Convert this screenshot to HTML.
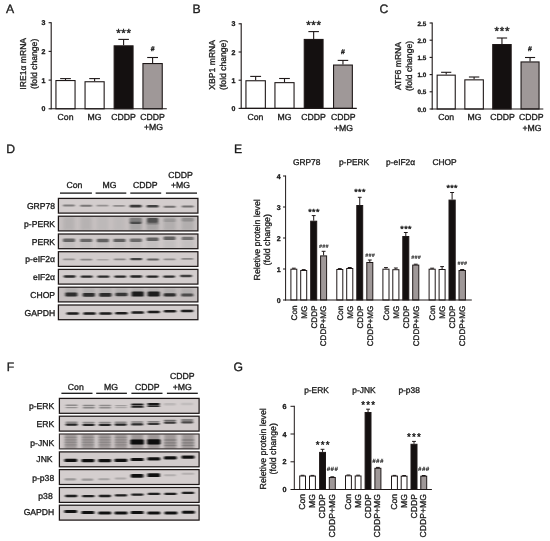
<!DOCTYPE html>
<html><head><meta charset="utf-8"><title>Figure</title>
<style>
html,body{margin:0;padding:0;background:#fff;}
body{width:550px;height:541px;overflow:hidden;}
svg{display:block;font-family:"Liberation Sans",Arial,sans-serif;text-rendering:geometricPrecision;}
text{stroke:#1c1c1c;stroke-width:0.33px;}
</style></head><body>
<svg width="550" height="541" viewBox="0 0 550 541">
<defs>
<filter id="b1" x="-20%" y="-100%" width="140%" height="300%"><feGaussianBlur stdDeviation="0.9 0.55"/></filter>
<filter id="b2" x="-20%" y="-20%" width="140%" height="140%"><feGaussianBlur stdDeviation="1.4 1.0"/></filter>
</defs>
<rect x="0" y="0" width="550" height="541" fill="#ffffff"/>
<text x="6.0" y="13.1" font-size="12.2" text-anchor="start" font-weight="normal" fill="#1c1c1c">A</text>
<line x1="65.5" y1="80.0" x2="65.5" y2="78.6" stroke="#1e1818" stroke-width="1.1"/>
<line x1="60.147" y1="78.6" x2="70.853" y2="78.6" stroke="#1e1818" stroke-width="1.1"/>
<rect x="55.95" y="80.55" width="19.10" height="28.25" fill="#ffffff" stroke="#1e1818" stroke-width="1.1"/>
<line x1="94.6" y1="81.2" x2="94.6" y2="78.6" stroke="#1e1818" stroke-width="1.1"/>
<line x1="89.247" y1="78.6" x2="99.95299999999999" y2="78.6" stroke="#1e1818" stroke-width="1.1"/>
<rect x="85.05" y="81.75" width="19.10" height="27.05" fill="#ffffff" stroke="#1e1818" stroke-width="1.1"/>
<line x1="123.6" y1="45.3" x2="123.6" y2="39.4" stroke="#1e1818" stroke-width="1.1"/>
<line x1="118.3" y1="39.4" x2="128.9" y2="39.4" stroke="#1e1818" stroke-width="1.1"/>
<rect x="114.15" y="45.85" width="18.90" height="62.95" fill="#141010" stroke="#1e1818" stroke-width="1.1"/>
<line x1="152.60000000000002" y1="63.0" x2="152.60000000000002" y2="57.5" stroke="#1e1818" stroke-width="1.1"/>
<line x1="147.19400000000002" y1="57.5" x2="158.00600000000003" y2="57.5" stroke="#1e1818" stroke-width="1.1"/>
<rect x="142.95" y="63.55" width="19.30" height="45.25" fill="#9f9898" stroke="#1e1818" stroke-width="1.1"/>
<line x1="51.2" y1="22.2" x2="51.2" y2="109.3" stroke="#1e1818" stroke-width="1.1"/>
<line x1="50.7" y1="108.8" x2="166.8" y2="108.8" stroke="#1e1818" stroke-width="1.1"/>
<line x1="48.6" y1="22.7" x2="51.2" y2="22.7" stroke="#1e1818" stroke-width="1.1"/>
<text x="45.300000000000004" y="25.2" font-size="7.0" text-anchor="end" font-weight="bold" fill="#1c1c1c">3</text>
<line x1="48.6" y1="51.4" x2="51.2" y2="51.4" stroke="#1e1818" stroke-width="1.1"/>
<text x="45.300000000000004" y="53.9" font-size="7.0" text-anchor="end" font-weight="bold" fill="#1c1c1c">2</text>
<line x1="48.6" y1="80.1" x2="51.2" y2="80.1" stroke="#1e1818" stroke-width="1.1"/>
<text x="45.300000000000004" y="82.6" font-size="7.0" text-anchor="end" font-weight="bold" fill="#1c1c1c">1</text>
<line x1="48.6" y1="108.8" x2="51.2" y2="108.8" stroke="#1e1818" stroke-width="1.1"/>
<text x="45.300000000000004" y="111.3" font-size="7.0" text-anchor="end" font-weight="bold" fill="#1c1c1c">0</text>
<text x="25.6" y="63.8" font-size="8.6" text-anchor="middle" font-weight="normal" fill="#1c1c1c" transform="rotate(-90 25.6 63.8)">IRE1α mRNA</text>
<text x="36.6" y="63.8" font-size="8.6" text-anchor="middle" font-weight="normal" fill="#1c1c1c" transform="rotate(-90 36.6 63.8)">(fold change)</text>
<text x="65.5" y="120.10000000000001" font-size="8.7" text-anchor="middle" font-weight="normal" fill="#1c1c1c">Con</text>
<text x="94.6" y="120.10000000000001" font-size="8.7" text-anchor="middle" font-weight="normal" fill="#1c1c1c">MG</text>
<text x="123.6" y="120.10000000000001" font-size="8.7" text-anchor="middle" font-weight="normal" fill="#1c1c1c">CDDP</text>
<text x="152.6" y="120.10000000000001" font-size="8.7" text-anchor="middle" font-weight="normal" fill="#1c1c1c">CDDP</text>
<text x="153.6" y="129.8" font-size="8.7" text-anchor="middle" font-weight="normal" fill="#1c1c1c">+MG</text>
<text x="123.94999999999999" y="37.1" font-size="11.6" text-anchor="middle" font-weight="normal" fill="#1c1c1c" letter-spacing="0.7" style="stroke-width:0.4px">***</text>
<text x="152.6" y="51.099999999999994" font-size="6.8" text-anchor="middle" font-weight="bold" fill="#1c1c1c">#</text>
<text x="192.6" y="13.1" font-size="12.2" text-anchor="start" font-weight="normal" fill="#1c1c1c">B</text>
<line x1="255.64999999999998" y1="80.2" x2="255.64999999999998" y2="76.4" stroke="#1e1818" stroke-width="1.1"/>
<line x1="250.21749999999997" y1="76.4" x2="261.0825" y2="76.4" stroke="#1e1818" stroke-width="1.1"/>
<rect x="245.95" y="80.75" width="19.40" height="27.65" fill="#ffffff" stroke="#1e1818" stroke-width="1.1"/>
<line x1="284.5" y1="82.1" x2="284.5" y2="78.5" stroke="#1e1818" stroke-width="1.1"/>
<line x1="279.147" y1="78.5" x2="289.853" y2="78.5" stroke="#1e1818" stroke-width="1.1"/>
<rect x="274.95" y="82.65" width="19.10" height="25.75" fill="#ffffff" stroke="#1e1818" stroke-width="1.1"/>
<line x1="313.65" y1="38.9" x2="313.65" y2="31.6" stroke="#1e1818" stroke-width="1.1"/>
<line x1="308.37649999999996" y1="31.6" x2="318.9235" y2="31.6" stroke="#1e1818" stroke-width="1.1"/>
<rect x="304.25" y="39.45" width="18.80" height="68.95" fill="#141010" stroke="#1e1818" stroke-width="1.1"/>
<line x1="342.95" y1="64.5" x2="342.95" y2="60.4" stroke="#1e1818" stroke-width="1.1"/>
<line x1="337.6765" y1="60.4" x2="348.2235" y2="60.4" stroke="#1e1818" stroke-width="1.1"/>
<rect x="333.55" y="65.05" width="18.80" height="43.35" fill="#9f9898" stroke="#1e1818" stroke-width="1.1"/>
<line x1="241.2" y1="23.3" x2="241.2" y2="108.9" stroke="#1e1818" stroke-width="1.1"/>
<line x1="240.7" y1="108.4" x2="356.8" y2="108.4" stroke="#1e1818" stroke-width="1.1"/>
<line x1="238.6" y1="23.8" x2="241.2" y2="23.8" stroke="#1e1818" stroke-width="1.1"/>
<text x="235.29999999999998" y="26.3" font-size="7.0" text-anchor="end" font-weight="bold" fill="#1c1c1c">3</text>
<line x1="238.6" y1="52.0" x2="241.2" y2="52.0" stroke="#1e1818" stroke-width="1.1"/>
<text x="235.29999999999998" y="54.5" font-size="7.0" text-anchor="end" font-weight="bold" fill="#1c1c1c">2</text>
<line x1="238.6" y1="80.2" x2="241.2" y2="80.2" stroke="#1e1818" stroke-width="1.1"/>
<text x="235.29999999999998" y="82.7" font-size="7.0" text-anchor="end" font-weight="bold" fill="#1c1c1c">1</text>
<line x1="238.6" y1="108.4" x2="241.2" y2="108.4" stroke="#1e1818" stroke-width="1.1"/>
<text x="235.29999999999998" y="110.9" font-size="7.0" text-anchor="end" font-weight="bold" fill="#1c1c1c">0</text>
<text x="215.0" y="64.8" font-size="8.6" text-anchor="middle" font-weight="normal" fill="#1c1c1c" transform="rotate(-90 215.0 64.8)">XBP1 mRNA</text>
<text x="225.8" y="64.8" font-size="8.6" text-anchor="middle" font-weight="normal" fill="#1c1c1c" transform="rotate(-90 225.8 64.8)">(fold change)</text>
<text x="255.4" y="119.9" font-size="8.7" text-anchor="middle" font-weight="normal" fill="#1c1c1c">Con</text>
<text x="284.5" y="119.9" font-size="8.7" text-anchor="middle" font-weight="normal" fill="#1c1c1c">MG</text>
<text x="313.6" y="119.9" font-size="8.7" text-anchor="middle" font-weight="normal" fill="#1c1c1c">CDDP</text>
<text x="343.2" y="119.9" font-size="8.7" text-anchor="middle" font-weight="normal" fill="#1c1c1c">CDDP</text>
<text x="343.6" y="130.6" font-size="8.7" text-anchor="middle" font-weight="normal" fill="#1c1c1c">+MG</text>
<text x="313.95000000000005" y="29.1" font-size="11.6" text-anchor="middle" font-weight="normal" fill="#1c1c1c" letter-spacing="0.7" style="stroke-width:0.4px">***</text>
<text x="343.0" y="54.3" font-size="6.8" text-anchor="middle" font-weight="bold" fill="#1c1c1c">#</text>
<text x="379.6" y="13.2" font-size="12.2" text-anchor="start" font-weight="normal" fill="#1c1c1c">C</text>
<line x1="446.20000000000005" y1="74.6" x2="446.20000000000005" y2="72.3" stroke="#1e1818" stroke-width="1.1"/>
<line x1="441.112" y1="72.3" x2="451.28800000000007" y2="72.3" stroke="#1e1818" stroke-width="1.1"/>
<rect x="437.15" y="75.15" width="18.10" height="33.85" fill="#ffffff" stroke="#1e1818" stroke-width="1.1"/>
<line x1="474.1" y1="79.3" x2="474.1" y2="77.0" stroke="#1e1818" stroke-width="1.1"/>
<line x1="468.906" y1="77.0" x2="479.29400000000004" y2="77.0" stroke="#1e1818" stroke-width="1.1"/>
<rect x="464.85" y="79.85" width="18.50" height="29.15" fill="#ffffff" stroke="#1e1818" stroke-width="1.1"/>
<line x1="501.95" y1="44.0" x2="501.95" y2="38.0" stroke="#1e1818" stroke-width="1.1"/>
<line x1="496.78249999999997" y1="38.0" x2="507.1175" y2="38.0" stroke="#1e1818" stroke-width="1.1"/>
<rect x="492.75" y="44.55" width="18.40" height="64.45" fill="#141010" stroke="#1e1818" stroke-width="1.1"/>
<line x1="530.05" y1="61.4" x2="530.05" y2="57.5" stroke="#1e1818" stroke-width="1.1"/>
<line x1="524.9884999999999" y1="57.5" x2="535.1115" y2="57.5" stroke="#1e1818" stroke-width="1.1"/>
<rect x="521.05" y="61.95" width="18.00" height="47.05" fill="#9f9898" stroke="#1e1818" stroke-width="1.1"/>
<line x1="432.2" y1="22.5" x2="432.2" y2="109.5" stroke="#1e1818" stroke-width="1.1"/>
<line x1="431.7" y1="109.0" x2="543.3" y2="109.0" stroke="#1e1818" stroke-width="1.1"/>
<line x1="429.59999999999997" y1="23.0" x2="432.2" y2="23.0" stroke="#1e1818" stroke-width="1.1"/>
<text x="426.3" y="25.5" font-size="6.3" text-anchor="end" font-weight="bold" fill="#1c1c1c">2.5</text>
<line x1="429.59999999999997" y1="40.2" x2="432.2" y2="40.2" stroke="#1e1818" stroke-width="1.1"/>
<text x="426.3" y="42.7" font-size="6.3" text-anchor="end" font-weight="bold" fill="#1c1c1c">2.0</text>
<line x1="429.59999999999997" y1="57.4" x2="432.2" y2="57.4" stroke="#1e1818" stroke-width="1.1"/>
<text x="426.3" y="59.9" font-size="6.3" text-anchor="end" font-weight="bold" fill="#1c1c1c">1.5</text>
<line x1="429.59999999999997" y1="74.6" x2="432.2" y2="74.6" stroke="#1e1818" stroke-width="1.1"/>
<text x="426.3" y="77.1" font-size="6.3" text-anchor="end" font-weight="bold" fill="#1c1c1c">1.0</text>
<line x1="429.59999999999997" y1="91.8" x2="432.2" y2="91.8" stroke="#1e1818" stroke-width="1.1"/>
<text x="426.3" y="94.3" font-size="6.3" text-anchor="end" font-weight="bold" fill="#1c1c1c">0.5</text>
<line x1="429.59999999999997" y1="109.0" x2="432.2" y2="109.0" stroke="#1e1818" stroke-width="1.1"/>
<text x="426.3" y="111.5" font-size="6.3" text-anchor="end" font-weight="bold" fill="#1c1c1c">0.0</text>
<text x="400.8" y="66.0" font-size="8.6" text-anchor="middle" font-weight="normal" fill="#1c1c1c" transform="rotate(-90 400.8 66.0)">ATF6 mRNA</text>
<text x="411.6" y="66.0" font-size="8.6" text-anchor="middle" font-weight="normal" fill="#1c1c1c" transform="rotate(-90 411.6 66.0)">(fold change)</text>
<text x="446.2" y="120.10000000000001" font-size="8.7" text-anchor="middle" font-weight="normal" fill="#1c1c1c">Con</text>
<text x="474.6" y="120.10000000000001" font-size="8.7" text-anchor="middle" font-weight="normal" fill="#1c1c1c">MG</text>
<text x="502.5" y="120.10000000000001" font-size="8.7" text-anchor="middle" font-weight="normal" fill="#1c1c1c">CDDP</text>
<text x="531.2" y="120.10000000000001" font-size="8.7" text-anchor="middle" font-weight="normal" fill="#1c1c1c">CDDP</text>
<text x="532.0" y="130.8" font-size="8.7" text-anchor="middle" font-weight="normal" fill="#1c1c1c">+MG</text>
<text x="502.35" y="35.1" font-size="11.6" text-anchor="middle" font-weight="normal" fill="#1c1c1c" letter-spacing="0.7" style="stroke-width:0.4px">***</text>
<text x="530.0" y="51.199999999999996" font-size="6.8" text-anchor="middle" font-weight="bold" fill="#1c1c1c">#</text>
<text x="6.2" y="153.3" font-size="12.2" text-anchor="start" font-weight="normal" fill="#1c1c1c">D</text>
<clipPath id="dc0"><rect x="58.4" y="198.4" width="139.5" height="14.7"/></clipPath>
<rect x="58.40" y="198.40" width="139.50" height="14.70" fill="#d3cdcd" stroke="none" stroke-width="1"/>
<g clip-path="url(#dc0)">
<rect x="62.90" y="204.50" width="12.0" height="2.0" rx="1.0" fill="#333" opacity="0.5" filter="url(#b1)"/>
<rect x="80.10" y="204.70" width="12.0" height="2.0" rx="1.0" fill="#333" opacity="0.55" filter="url(#b1)"/>
<rect x="96.50" y="204.80" width="12.0" height="1.8" rx="0.9" fill="#333" opacity="0.38" filter="url(#b1)"/>
<rect x="113.00" y="204.90" width="12.0" height="1.8" rx="0.9" fill="#333" opacity="0.42" filter="url(#b1)"/>
<rect x="129.70" y="204.80" width="12.0" height="2.6" rx="1.2" fill="#333" opacity="0.95" filter="url(#b1)"/>
<rect x="146.60" y="205.00" width="12.0" height="2.6" rx="1.2" fill="#333" opacity="0.9" filter="url(#b1)"/>
<rect x="163.70" y="205.70" width="12.0" height="2.0" rx="1.0" fill="#333" opacity="0.6" filter="url(#b1)"/>
<rect x="181.70" y="205.60" width="12.0" height="2.0" rx="1.0" fill="#333" opacity="0.6" filter="url(#b1)"/>
</g>
<rect x="58.40" y="198.40" width="139.50" height="14.70" fill="none" stroke="#1c1616" stroke-width="1.25"/>
<clipPath id="dc1"><rect x="58.4" y="216.2" width="139.5" height="14.7"/></clipPath>
<rect x="58.40" y="216.20" width="139.50" height="14.70" fill="#c6c0c0" stroke="none" stroke-width="1"/>
<g clip-path="url(#dc1)">
<rect x="63.40" y="217.20" width="11" height="13" fill="#999" opacity="0.34" filter="url(#b2)"/>
<rect x="80.60" y="217.20" width="11" height="13" fill="#999" opacity="0.34" filter="url(#b2)"/>
<rect x="97.00" y="217.20" width="11" height="13" fill="#a5a5a5" opacity="0.26" filter="url(#b2)"/>
<rect x="113.50" y="217.20" width="11" height="13" fill="#a5a5a5" opacity="0.24" filter="url(#b2)"/>
<rect x="129.70" y="217.20" width="12" height="13" fill="#8c8c8c" opacity="0.5" filter="url(#b2)"/>
<rect x="146.60" y="217.20" width="12" height="13" fill="#8c8c8c" opacity="0.5" filter="url(#b2)"/>
<rect x="163.70" y="217.20" width="12" height="13" fill="#999" opacity="0.45" filter="url(#b2)"/>
<rect x="181.70" y="217.20" width="12" height="13" fill="#999" opacity="0.45" filter="url(#b2)"/>
<rect x="129.95" y="221.70" width="11.5" height="2.2" rx="1.1" fill="#2a2a2a" opacity="0.75" filter="url(#b1)"/>
<rect x="129.70" y="217.95" width="12" height="4.5" rx="1.2" fill="#555" opacity="0.5" filter="url(#b1)"/>
<rect x="147.10" y="218.10" width="11" height="4.6" rx="1.2" fill="#333" opacity="0.75" filter="url(#b1)"/>
<rect x="146.60" y="222.60" width="12" height="2.0" rx="1.0" fill="#444" opacity="0.4" filter="url(#b1)"/>
<rect x="163.70" y="218.45" width="12" height="3.5" rx="1.2" fill="#666" opacity="0.3" filter="url(#b1)"/>
<rect x="181.70" y="218.05" width="12" height="3.5" rx="1.2" fill="#555" opacity="0.35" filter="url(#b1)"/>
</g>
<rect x="58.40" y="216.20" width="139.50" height="14.70" fill="none" stroke="#1c1616" stroke-width="1.25"/>
<clipPath id="dc2"><rect x="58.4" y="234.0" width="139.5" height="14.7"/></clipPath>
<rect x="58.40" y="234.00" width="139.50" height="14.70" fill="#cfc9c9" stroke="none" stroke-width="1"/>
<g clip-path="url(#dc2)">
<rect x="63.00" y="240.00" width="12" height="9" fill="#aaa" opacity="0.3" filter="url(#b2)"/>
<rect x="80.20" y="240.00" width="12" height="9" fill="#aaa" opacity="0.3" filter="url(#b2)"/>
<rect x="96.80" y="240.00" width="12" height="9" fill="#aaa" opacity="0.3" filter="url(#b2)"/>
<rect x="113.50" y="240.00" width="12" height="9" fill="#aaa" opacity="0.3" filter="url(#b2)"/>
<rect x="129.90" y="240.00" width="12" height="9" fill="#aaa" opacity="0.3" filter="url(#b2)"/>
<rect x="146.60" y="240.00" width="12" height="9" fill="#aaa" opacity="0.3" filter="url(#b2)"/>
<rect x="163.50" y="240.00" width="12" height="9" fill="#aaa" opacity="0.3" filter="url(#b2)"/>
<rect x="181.70" y="240.00" width="12" height="9" fill="#aaa" opacity="0.3" filter="url(#b2)"/>
<rect x="63.00" y="238.50" width="12.0" height="3.4" rx="1.2" fill="#444" opacity="0.75" filter="url(#b1)"/>
<rect x="80.20" y="238.70" width="12.0" height="3.4" rx="1.2" fill="#444" opacity="0.72" filter="url(#b1)"/>
<rect x="96.80" y="238.80" width="12.0" height="3.4" rx="1.2" fill="#444" opacity="0.78" filter="url(#b1)"/>
<rect x="113.50" y="238.70" width="12.0" height="3.4" rx="1.2" fill="#444" opacity="0.78" filter="url(#b1)"/>
<rect x="129.90" y="238.50" width="12.0" height="3.4" rx="1.2" fill="#444" opacity="0.7" filter="url(#b1)"/>
<rect x="146.60" y="237.50" width="12.0" height="3.4" rx="1.2" fill="#444" opacity="0.78" filter="url(#b1)"/>
<rect x="163.50" y="236.60" width="12.0" height="3.4" rx="1.2" fill="#444" opacity="0.78" filter="url(#b1)"/>
<rect x="181.70" y="236.70" width="12.0" height="3.4" rx="1.2" fill="#444" opacity="0.65" filter="url(#b1)"/>
</g>
<rect x="58.40" y="234.00" width="139.50" height="14.70" fill="none" stroke="#1c1616" stroke-width="1.25"/>
<clipPath id="dc3"><rect x="58.4" y="251.7" width="139.5" height="14.7"/></clipPath>
<rect x="58.40" y="251.70" width="139.50" height="14.70" fill="#d2cccc" stroke="none" stroke-width="1"/>
<g clip-path="url(#dc3)">
<rect x="63.00" y="258.50" width="12.0" height="1.8" rx="0.9" fill="#333" opacity="0.38" filter="url(#b1)"/>
<rect x="80.30" y="258.70" width="12.0" height="1.8" rx="0.9" fill="#333" opacity="0.45" filter="url(#b1)"/>
<rect x="96.80" y="259.00" width="12.0" height="1.6" rx="0.8" fill="#333" opacity="0.26" filter="url(#b1)"/>
<rect x="113.80" y="258.40" width="12.0" height="1.8" rx="0.9" fill="#333" opacity="0.45" filter="url(#b1)"/>
<rect x="130.20" y="258.00" width="12.0" height="2.2" rx="1.1" fill="#333" opacity="0.9" filter="url(#b1)"/>
<rect x="147.00" y="258.50" width="12.0" height="2.0" rx="1.0" fill="#333" opacity="0.7" filter="url(#b1)"/>
<rect x="163.60" y="258.45" width="12.0" height="1.7" rx="0.85" fill="#333" opacity="0.42" filter="url(#b1)"/>
<rect x="181.30" y="258.05" width="12.0" height="1.7" rx="0.85" fill="#333" opacity="0.45" filter="url(#b1)"/>
</g>
<rect x="58.40" y="251.70" width="139.50" height="14.70" fill="none" stroke="#1c1616" stroke-width="1.25"/>
<clipPath id="dc4"><rect x="58.4" y="269.4" width="139.5" height="14.7"/></clipPath>
<rect x="58.40" y="269.40" width="139.50" height="14.70" fill="#d3cdcd" stroke="none" stroke-width="1"/>
<g clip-path="url(#dc4)">
<rect x="63.60" y="275.35" width="12.0" height="2.3" rx="1.15" fill="#1c1c1c" opacity="0.92" filter="url(#b1)"/>
<rect x="80.70" y="275.55" width="12.0" height="2.3" rx="1.15" fill="#1c1c1c" opacity="0.92" filter="url(#b1)"/>
<rect x="97.40" y="275.55" width="12.0" height="2.3" rx="1.15" fill="#1c1c1c" opacity="0.9" filter="url(#b1)"/>
<rect x="114.20" y="275.45" width="12.0" height="2.3" rx="1.15" fill="#1c1c1c" opacity="0.92" filter="url(#b1)"/>
<rect x="130.20" y="275.35" width="12.0" height="2.3" rx="1.15" fill="#1c1c1c" opacity="0.95" filter="url(#b1)"/>
<rect x="146.40" y="275.45" width="12.0" height="2.3" rx="1.15" fill="#1c1c1c" opacity="0.95" filter="url(#b1)"/>
<rect x="163.10" y="275.45" width="12.0" height="2.3" rx="1.15" fill="#1c1c1c" opacity="0.9" filter="url(#b1)"/>
<rect x="180.10" y="274.85" width="12.0" height="2.3" rx="1.15" fill="#1c1c1c" opacity="0.8" filter="url(#b1)"/>
</g>
<rect x="58.40" y="269.40" width="139.50" height="14.70" fill="none" stroke="#1c1616" stroke-width="1.25"/>
<clipPath id="dc5"><rect x="58.4" y="287.2" width="139.5" height="14.7"/></clipPath>
<rect x="58.40" y="287.20" width="139.50" height="14.70" fill="#c4bebe" stroke="none" stroke-width="1"/>
<g clip-path="url(#dc5)">
<rect x="65.30" y="288.20" width="12" height="8" fill="#999" opacity="0.4" filter="url(#b2)"/>
<rect x="82.80" y="288.20" width="12" height="8" fill="#999" opacity="0.4" filter="url(#b2)"/>
<rect x="99.40" y="288.20" width="12" height="8" fill="#999" opacity="0.4" filter="url(#b2)"/>
<rect x="115.50" y="288.20" width="12" height="8" fill="#999" opacity="0.4" filter="url(#b2)"/>
<rect x="131.70" y="288.20" width="12" height="8" fill="#999" opacity="0.4" filter="url(#b2)"/>
<rect x="147.70" y="288.20" width="12" height="8" fill="#999" opacity="0.4" filter="url(#b2)"/>
<rect x="163.80" y="288.20" width="12" height="8" fill="#999" opacity="0.4" filter="url(#b2)"/>
<rect x="181.20" y="288.20" width="12" height="8" fill="#999" opacity="0.4" filter="url(#b2)"/>
<rect x="65.30" y="292.60" width="12.0" height="3.8" rx="1.2" fill="#1a1a1a" opacity="0.88" filter="url(#b1)"/>
<rect x="82.80" y="292.90" width="12.0" height="3.8" rx="1.2" fill="#1a1a1a" opacity="0.88" filter="url(#b1)"/>
<rect x="99.40" y="292.90" width="12.0" height="3.8" rx="1.2" fill="#1a1a1a" opacity="0.9" filter="url(#b1)"/>
<rect x="115.50" y="292.80" width="12.0" height="3.4" rx="1.2" fill="#1a1a1a" opacity="0.82" filter="url(#b1)"/>
<rect x="131.70" y="291.60" width="12.0" height="5.0" rx="1.2" fill="#1a1a1a" opacity="1" filter="url(#b1)"/>
<rect x="147.70" y="291.50" width="12.0" height="5.0" rx="1.2" fill="#1a1a1a" opacity="1" filter="url(#b1)"/>
<rect x="163.80" y="293.30" width="12.0" height="3.2" rx="1.2" fill="#1a1a1a" opacity="0.88" filter="url(#b1)"/>
<rect x="181.20" y="293.50" width="12.0" height="3.0" rx="1.2" fill="#1a1a1a" opacity="0.68" filter="url(#b1)"/>
</g>
<rect x="58.40" y="287.20" width="139.50" height="14.70" fill="none" stroke="#1c1616" stroke-width="1.25"/>
<clipPath id="dc6"><rect x="58.4" y="305.0" width="139.5" height="14.7"/></clipPath>
<rect x="58.40" y="305.00" width="139.50" height="14.70" fill="#d3cdcd" stroke="none" stroke-width="1"/>
<g clip-path="url(#dc6)">
<rect x="66.50" y="312.25" width="12.4" height="2.5" rx="1.2" fill="#161616" opacity="0.96" filter="url(#b1)"/>
<rect x="83.30" y="312.35" width="12.4" height="2.5" rx="1.2" fill="#161616" opacity="0.96" filter="url(#b1)"/>
<rect x="99.40" y="312.15" width="12.4" height="2.5" rx="1.2" fill="#161616" opacity="0.96" filter="url(#b1)"/>
<rect x="115.20" y="311.95" width="12.4" height="2.5" rx="1.2" fill="#161616" opacity="0.96" filter="url(#b1)"/>
<rect x="131.50" y="311.35" width="12.4" height="2.5" rx="1.2" fill="#161616" opacity="0.96" filter="url(#b1)"/>
<rect x="147.50" y="310.65" width="12.4" height="2.5" rx="1.2" fill="#161616" opacity="0.96" filter="url(#b1)"/>
<rect x="163.80" y="309.95" width="12.4" height="2.5" rx="1.2" fill="#161616" opacity="0.96" filter="url(#b1)"/>
<rect x="180.90" y="309.65" width="12.4" height="2.5" rx="1.2" fill="#161616" opacity="0.96" filter="url(#b1)"/>
</g>
<rect x="58.40" y="305.00" width="139.50" height="14.70" fill="none" stroke="#1c1616" stroke-width="1.25"/>
<text x="55.1" y="208.5" font-size="8.6" text-anchor="end" font-weight="normal" fill="#1c1c1c">GRP78</text>
<text x="55.1" y="227.4" font-size="8.6" text-anchor="end" font-weight="normal" fill="#1c1c1c">p-PERK</text>
<text x="55.1" y="245.3" font-size="8.6" text-anchor="end" font-weight="normal" fill="#1c1c1c">PERK</text>
<text x="55.1" y="262.0" font-size="8.6" text-anchor="end" font-weight="normal" fill="#1c1c1c">p-eIF2α</text>
<text x="55.1" y="280.4" font-size="8.6" text-anchor="end" font-weight="normal" fill="#1c1c1c">eIF2α</text>
<text x="55.1" y="297.5" font-size="8.6" text-anchor="end" font-weight="normal" fill="#1c1c1c">CHOP</text>
<text x="55.1" y="315.8" font-size="8.6" text-anchor="end" font-weight="normal" fill="#1c1c1c">GAPDH</text>
<text x="74.4" y="188.2" font-size="8.7" text-anchor="middle" font-weight="normal" fill="#1c1c1c">Con</text>
<text x="109.6" y="188.2" font-size="8.7" text-anchor="middle" font-weight="normal" fill="#1c1c1c">MG</text>
<text x="145.2" y="188.2" font-size="8.7" text-anchor="middle" font-weight="normal" fill="#1c1c1c">CDDP</text>
<text x="180.6" y="177.6" font-size="8.7" text-anchor="middle" font-weight="normal" fill="#1c1c1c">CDDP</text>
<text x="180.6" y="188.2" font-size="8.7" text-anchor="middle" font-weight="normal" fill="#1c1c1c">+MG</text>
<line x1="60.0" y1="193.1" x2="91.9" y2="193.1" stroke="#151515" stroke-width="1.3"/>
<line x1="95.6" y1="193.1" x2="126.3" y2="193.1" stroke="#151515" stroke-width="1.3"/>
<line x1="130.3" y1="193.1" x2="161.2" y2="193.1" stroke="#151515" stroke-width="1.3"/>
<line x1="165.9" y1="193.1" x2="197.0" y2="193.1" stroke="#151515" stroke-width="1.3"/>
<text x="6.8" y="371.0" font-size="12.2" text-anchor="start" font-weight="normal" fill="#1c1c1c">F</text>
<clipPath id="fc0"><rect x="59.4" y="398.4" width="139.7" height="14.9"/></clipPath>
<rect x="59.40" y="398.40" width="139.70" height="14.90" fill="#d4cece" stroke="none" stroke-width="1"/>
<g clip-path="url(#fc0)">
<rect x="65.60" y="404.60" width="12.0" height="1.4" rx="0.7" fill="#555" opacity="0.55" filter="url(#b1)"/>
<rect x="82.80" y="404.80" width="12.0" height="1.4" rx="0.7" fill="#555" opacity="0.6" filter="url(#b1)"/>
<rect x="99.10" y="404.80" width="12.0" height="1.4" rx="0.7" fill="#555" opacity="0.55" filter="url(#b1)"/>
<rect x="115.00" y="404.90" width="12.0" height="1.4" rx="0.7" fill="#555" opacity="0.4" filter="url(#b1)"/>
<rect x="65.60" y="406.90" width="12.0" height="1.4" rx="0.7" fill="#555" opacity="0.5" filter="url(#b1)"/>
<rect x="82.80" y="407.10" width="12.0" height="1.4" rx="0.7" fill="#555" opacity="0.6" filter="url(#b1)"/>
<rect x="99.10" y="407.10" width="12.0" height="1.4" rx="0.7" fill="#555" opacity="0.55" filter="url(#b1)"/>
<rect x="115.00" y="406.90" width="12.0" height="1.4" rx="0.7" fill="#555" opacity="0.32" filter="url(#b1)"/>
<rect x="131.20" y="403.40" width="12.4" height="2.0" rx="1.0" fill="#111" opacity="0.95" filter="url(#b1)"/>
<rect x="131.20" y="405.95" width="12.4" height="1.9" rx="0.95" fill="#111" opacity="0.9" filter="url(#b1)"/>
<rect x="147.40" y="403.00" width="12.4" height="2.0" rx="1.0" fill="#111" opacity="0.95" filter="url(#b1)"/>
<rect x="147.40" y="405.35" width="12.4" height="1.7" rx="0.85" fill="#111" opacity="0.85" filter="url(#b1)"/>
<rect x="163.80" y="402.90" width="12" height="2.6" rx="1.2" fill="#888" opacity="0.3" filter="url(#b1)"/>
<rect x="181.00" y="402.70" width="12" height="2.6" rx="1.2" fill="#888" opacity="0.24" filter="url(#b1)"/>
</g>
<rect x="59.40" y="398.40" width="139.70" height="14.90" fill="none" stroke="#1c1616" stroke-width="1.25"/>
<clipPath id="fc1"><rect x="59.4" y="416.2" width="139.7" height="14.9"/></clipPath>
<rect x="59.40" y="416.20" width="139.70" height="14.90" fill="#d2cccc" stroke="none" stroke-width="1"/>
<g clip-path="url(#fc1)">
<rect x="65.50" y="423.50" width="12.2" height="2.2" rx="1.1" fill="#161616" opacity="0.92" filter="url(#b1)"/>
<rect x="82.50" y="423.70" width="12.2" height="2.2" rx="1.1" fill="#161616" opacity="0.92" filter="url(#b1)"/>
<rect x="98.80" y="423.70" width="12.2" height="2.2" rx="1.1" fill="#161616" opacity="0.92" filter="url(#b1)"/>
<rect x="114.60" y="423.50" width="12.2" height="2.2" rx="1.1" fill="#161616" opacity="0.92" filter="url(#b1)"/>
<rect x="131.10" y="423.30" width="12.2" height="2.2" rx="1.1" fill="#161616" opacity="0.88" filter="url(#b1)"/>
<rect x="147.50" y="422.70" width="12.2" height="2.2" rx="1.1" fill="#161616" opacity="0.82" filter="url(#b1)"/>
<rect x="163.90" y="421.60" width="12.2" height="2.2" rx="1.1" fill="#161616" opacity="0.8" filter="url(#b1)"/>
<rect x="181.10" y="421.20" width="12.2" height="2.2" rx="1.1" fill="#161616" opacity="0.72" filter="url(#b1)"/>
<rect x="65.50" y="421.50" width="12.2" height="1.4" rx="0.7" fill="#444" opacity="0.5" filter="url(#b1)"/>
<rect x="82.50" y="421.70" width="12.2" height="1.4" rx="0.7" fill="#444" opacity="0.5" filter="url(#b1)"/>
<rect x="98.80" y="421.70" width="12.2" height="1.4" rx="0.7" fill="#444" opacity="0.5" filter="url(#b1)"/>
<rect x="114.60" y="421.50" width="12.2" height="1.4" rx="0.7" fill="#444" opacity="0.5" filter="url(#b1)"/>
<rect x="131.10" y="421.30" width="12.2" height="1.4" rx="0.7" fill="#444" opacity="0.55" filter="url(#b1)"/>
<rect x="147.50" y="420.90" width="12.2" height="1.4" rx="0.7" fill="#444" opacity="0.55" filter="url(#b1)"/>
<rect x="163.90" y="419.70" width="12.2" height="1.4" rx="0.7" fill="#444" opacity="0.72" filter="url(#b1)"/>
<rect x="181.10" y="419.30" width="12.2" height="1.4" rx="0.7" fill="#444" opacity="0.72" filter="url(#b1)"/>
</g>
<rect x="59.40" y="416.20" width="139.70" height="14.90" fill="none" stroke="#1c1616" stroke-width="1.25"/>
<clipPath id="fc2"><rect x="59.4" y="434.0" width="139.7" height="14.9"/></clipPath>
<rect x="59.40" y="434.00" width="139.70" height="14.90" fill="#d0c9c9" stroke="none" stroke-width="1"/>
<g clip-path="url(#fc2)">
<rect x="64.70" y="434.00" width="12.2" height="15" fill="#8a8484" opacity="0.7" filter="url(#b2)"/>
<rect x="81.90" y="434.00" width="12.2" height="15" fill="#8a8484" opacity="0.7" filter="url(#b2)"/>
<rect x="98.60" y="434.00" width="12.2" height="15" fill="#8a8484" opacity="0.7" filter="url(#b2)"/>
<rect x="114.80" y="434.00" width="12.2" height="15" fill="#8a8484" opacity="0.7" filter="url(#b2)"/>
<rect x="131.10" y="434.00" width="12.2" height="15" fill="#8a8484" opacity="0.7" filter="url(#b2)"/>
<rect x="147.70" y="434.00" width="12.2" height="15" fill="#8a8484" opacity="0.7" filter="url(#b2)"/>
<rect x="164.20" y="434.00" width="12.2" height="15" fill="#8a8484" opacity="0.7" filter="url(#b2)"/>
<rect x="181.90" y="434.00" width="12.2" height="15" fill="#8a8484" opacity="0.7" filter="url(#b2)"/>
<rect x="130.50" y="439.40" width="13.4" height="5.2" rx="1.2" fill="#0c0c0c" opacity="1" filter="url(#b1)"/>
<rect x="147.20" y="439.20" width="13.2" height="5.2" rx="1.2" fill="#0c0c0c" opacity="1" filter="url(#b1)"/>
<rect x="64.55" y="436.70" width="12.5" height="1.2" rx="0.6" fill="#666" opacity="0.32" filter="url(#b1)"/>
<rect x="64.55" y="439.20" width="12.5" height="1.2" rx="0.6" fill="#666" opacity="0.32" filter="url(#b1)"/>
<rect x="64.55" y="441.70" width="12.5" height="1.2" rx="0.6" fill="#666" opacity="0.32" filter="url(#b1)"/>
<rect x="64.55" y="444.20" width="12.5" height="1.2" rx="0.6" fill="#666" opacity="0.32" filter="url(#b1)"/>
<rect x="81.75" y="436.70" width="12.5" height="1.2" rx="0.6" fill="#666" opacity="0.32" filter="url(#b1)"/>
<rect x="81.75" y="439.20" width="12.5" height="1.2" rx="0.6" fill="#666" opacity="0.32" filter="url(#b1)"/>
<rect x="81.75" y="441.70" width="12.5" height="1.2" rx="0.6" fill="#666" opacity="0.32" filter="url(#b1)"/>
<rect x="81.75" y="444.20" width="12.5" height="1.2" rx="0.6" fill="#666" opacity="0.32" filter="url(#b1)"/>
<rect x="98.45" y="436.70" width="12.5" height="1.2" rx="0.6" fill="#666" opacity="0.32" filter="url(#b1)"/>
<rect x="98.45" y="439.20" width="12.5" height="1.2" rx="0.6" fill="#666" opacity="0.32" filter="url(#b1)"/>
<rect x="98.45" y="441.70" width="12.5" height="1.2" rx="0.6" fill="#666" opacity="0.32" filter="url(#b1)"/>
<rect x="98.45" y="444.20" width="12.5" height="1.2" rx="0.6" fill="#666" opacity="0.32" filter="url(#b1)"/>
<rect x="114.65" y="436.70" width="12.5" height="1.2" rx="0.6" fill="#666" opacity="0.32" filter="url(#b1)"/>
<rect x="114.65" y="439.20" width="12.5" height="1.2" rx="0.6" fill="#666" opacity="0.32" filter="url(#b1)"/>
<rect x="114.65" y="441.70" width="12.5" height="1.2" rx="0.6" fill="#666" opacity="0.32" filter="url(#b1)"/>
<rect x="114.65" y="444.20" width="12.5" height="1.2" rx="0.6" fill="#666" opacity="0.32" filter="url(#b1)"/>
<rect x="164.05" y="439.35" width="12.5" height="1.3" rx="0.65" fill="#555" opacity="0.4" filter="url(#b1)"/>
<rect x="164.05" y="442.15" width="12.5" height="1.3" rx="0.65" fill="#555" opacity="0.4" filter="url(#b1)"/>
<rect x="164.05" y="444.75" width="12.5" height="1.3" rx="0.65" fill="#555" opacity="0.4" filter="url(#b1)"/>
<rect x="181.75" y="439.35" width="12.5" height="1.3" rx="0.65" fill="#555" opacity="0.4" filter="url(#b1)"/>
<rect x="181.75" y="442.15" width="12.5" height="1.3" rx="0.65" fill="#555" opacity="0.4" filter="url(#b1)"/>
<rect x="181.75" y="444.75" width="12.5" height="1.3" rx="0.65" fill="#555" opacity="0.4" filter="url(#b1)"/>
</g>
<rect x="59.40" y="434.00" width="139.70" height="14.90" fill="none" stroke="#2a2424" stroke-width="1.1"/>
<clipPath id="fc3"><rect x="59.4" y="451.9" width="139.7" height="14.9"/></clipPath>
<rect x="59.40" y="451.90" width="139.70" height="14.90" fill="#d2cccc" stroke="none" stroke-width="1"/>
<g clip-path="url(#fc3)">
<rect x="64.40" y="458.80" width="12.8" height="3.2" rx="1.2" fill="#101010" opacity="0.98" filter="url(#b1)"/>
<rect x="81.60" y="459.00" width="12.8" height="3.2" rx="1.2" fill="#101010" opacity="0.98" filter="url(#b1)"/>
<rect x="98.30" y="459.00" width="12.8" height="3.2" rx="1.2" fill="#101010" opacity="0.98" filter="url(#b1)"/>
<rect x="114.50" y="458.70" width="12.8" height="3.2" rx="1.2" fill="#101010" opacity="0.98" filter="url(#b1)"/>
<rect x="130.80" y="457.90" width="12.8" height="3.2" rx="1.2" fill="#101010" opacity="0.98" filter="url(#b1)"/>
<rect x="147.40" y="457.20" width="12.8" height="3.2" rx="1.2" fill="#101010" opacity="0.98" filter="url(#b1)"/>
<rect x="163.90" y="456.20" width="12.8" height="3.2" rx="1.2" fill="#101010" opacity="0.98" filter="url(#b1)"/>
<rect x="181.60" y="455.50" width="12.8" height="3.2" rx="1.2" fill="#101010" opacity="0.98" filter="url(#b1)"/>
</g>
<rect x="59.40" y="451.90" width="139.70" height="14.90" fill="none" stroke="#1c1616" stroke-width="1.25"/>
<clipPath id="fc4"><rect x="59.4" y="469.6" width="139.7" height="14.9"/></clipPath>
<rect x="59.40" y="469.60" width="139.70" height="14.90" fill="#d4cece" stroke="none" stroke-width="1"/>
<g clip-path="url(#fc4)">
<rect x="64.50" y="478.20" width="11.6" height="2.2" rx="1.1" fill="#555" opacity="0.45" filter="url(#b1)"/>
<rect x="81.60" y="478.60" width="11.6" height="2.2" rx="1.1" fill="#555" opacity="0.45" filter="url(#b1)"/>
<rect x="98.30" y="478.30" width="11.4" height="2.0" rx="1.0" fill="#555" opacity="0.36" filter="url(#b1)"/>
<rect x="114.90" y="477.40" width="11.4" height="2.0" rx="1.0" fill="#555" opacity="0.3" filter="url(#b1)"/>
<rect x="130.80" y="474.10" width="12.6" height="3.6" rx="1.2" fill="#111" opacity="0.98" filter="url(#b1)"/>
<rect x="147.40" y="473.30" width="12.6" height="3.8" rx="1.2" fill="#111" opacity="0.98" filter="url(#b1)"/>
<rect x="164.00" y="474.20" width="12" height="2.0" rx="1.0" fill="#666" opacity="0.3" filter="url(#b1)"/>
<rect x="181.70" y="472.80" width="12.6" height="2.0" rx="1.0" fill="#666" opacity="0.28" filter="url(#b1)"/>
</g>
<rect x="59.40" y="469.60" width="139.70" height="14.90" fill="none" stroke="#1c1616" stroke-width="1.25"/>
<clipPath id="fc5"><rect x="59.4" y="487.5" width="139.7" height="14.9"/></clipPath>
<rect x="59.40" y="487.50" width="139.70" height="14.90" fill="#d2cccc" stroke="none" stroke-width="1"/>
<g clip-path="url(#fc5)">
<rect x="65.00" y="494.85" width="12.4" height="2.3" rx="1.15" fill="#141414" opacity="0.95" filter="url(#b1)"/>
<rect x="82.10" y="495.05" width="12.4" height="2.3" rx="1.15" fill="#141414" opacity="0.95" filter="url(#b1)"/>
<rect x="98.70" y="494.85" width="12.4" height="2.3" rx="1.15" fill="#141414" opacity="0.95" filter="url(#b1)"/>
<rect x="114.80" y="494.15" width="12.4" height="2.3" rx="1.15" fill="#141414" opacity="0.95" filter="url(#b1)"/>
<rect x="131.20" y="493.45" width="12.4" height="2.3" rx="1.15" fill="#141414" opacity="0.95" filter="url(#b1)"/>
<rect x="147.70" y="492.75" width="12.4" height="2.3" rx="1.15" fill="#141414" opacity="0.95" filter="url(#b1)"/>
<rect x="164.30" y="492.75" width="12.4" height="2.3" rx="1.15" fill="#141414" opacity="0.95" filter="url(#b1)"/>
<rect x="181.80" y="491.75" width="12.4" height="2.3" rx="1.15" fill="#141414" opacity="0.95" filter="url(#b1)"/>
</g>
<rect x="59.40" y="487.50" width="139.70" height="14.90" fill="none" stroke="#1c1616" stroke-width="1.25"/>
<clipPath id="fc6"><rect x="59.4" y="505.2" width="139.7" height="14.9"/></clipPath>
<rect x="59.40" y="505.20" width="139.70" height="14.90" fill="#d2cccc" stroke="none" stroke-width="1"/>
<g clip-path="url(#fc6)">
<rect x="64.30" y="510.00" width="12.8" height="3.0" rx="1.2" fill="#101010" opacity="0.98" filter="url(#b1)"/>
<rect x="81.50" y="511.10" width="12.8" height="3.0" rx="1.2" fill="#101010" opacity="0.98" filter="url(#b1)"/>
<rect x="98.30" y="511.40" width="12.8" height="3.0" rx="1.2" fill="#101010" opacity="0.98" filter="url(#b1)"/>
<rect x="114.60" y="511.50" width="12.8" height="3.0" rx="1.2" fill="#101010" opacity="0.98" filter="url(#b1)"/>
<rect x="130.80" y="511.10" width="12.8" height="3.0" rx="1.2" fill="#101010" opacity="0.98" filter="url(#b1)"/>
<rect x="147.40" y="511.40" width="12.8" height="3.0" rx="1.2" fill="#101010" opacity="0.98" filter="url(#b1)"/>
<rect x="164.50" y="511.40" width="12.8" height="3.0" rx="1.2" fill="#101010" opacity="0.98" filter="url(#b1)"/>
<rect x="182.00" y="510.80" width="12.8" height="3.0" rx="1.2" fill="#101010" opacity="0.98" filter="url(#b1)"/>
</g>
<rect x="59.40" y="505.20" width="139.70" height="14.90" fill="none" stroke="#1c1616" stroke-width="1.25"/>
<text x="54.2" y="408.5" font-size="8.6" text-anchor="end" font-weight="normal" fill="#1c1c1c">p-ERK</text>
<text x="54.2" y="427.1" font-size="8.6" text-anchor="end" font-weight="normal" fill="#1c1c1c">ERK</text>
<text x="54.2" y="445.8" font-size="8.6" text-anchor="end" font-weight="normal" fill="#1c1c1c">p-JNK</text>
<text x="52.6" y="462.0" font-size="8.6" text-anchor="end" font-weight="normal" fill="#1c1c1c">JNK</text>
<text x="54.2" y="480.8" font-size="8.6" text-anchor="end" font-weight="normal" fill="#1c1c1c">p-p38</text>
<text x="52.7" y="499.3" font-size="8.6" text-anchor="end" font-weight="normal" fill="#1c1c1c">p38</text>
<text x="54.2" y="514.9" font-size="8.6" text-anchor="end" font-weight="normal" fill="#1c1c1c">GAPDH</text>
<text x="75.8" y="389.7" font-size="8.7" text-anchor="middle" font-weight="normal" fill="#1c1c1c">Con</text>
<text x="111.0" y="389.7" font-size="8.7" text-anchor="middle" font-weight="normal" fill="#1c1c1c">MG</text>
<text x="147.2" y="389.7" font-size="8.7" text-anchor="middle" font-weight="normal" fill="#1c1c1c">CDDP</text>
<text x="182.2" y="378.9" font-size="8.7" text-anchor="middle" font-weight="normal" fill="#1c1c1c">CDDP</text>
<text x="182.2" y="389.7" font-size="8.7" text-anchor="middle" font-weight="normal" fill="#1c1c1c">+MG</text>
<line x1="61.4" y1="393.3" x2="92.5" y2="393.3" stroke="#151515" stroke-width="1.3"/>
<line x1="96.2" y1="393.3" x2="126.9" y2="393.3" stroke="#151515" stroke-width="1.3"/>
<line x1="131.4" y1="393.3" x2="162.5" y2="393.3" stroke="#151515" stroke-width="1.3"/>
<line x1="166.9" y1="393.3" x2="197.8" y2="393.3" stroke="#151515" stroke-width="1.3"/>
<text x="234.0" y="153.3" font-size="12.2" text-anchor="start" font-weight="normal" fill="#1c1c1c">E</text>
<line x1="293.85" y1="268.7" x2="293.85" y2="268.2" stroke="#1e1818" stroke-width="1.0"/>
<line x1="291.9525" y1="268.2" x2="295.74750000000006" y2="268.2" stroke="#1e1818" stroke-width="1.0"/>
<rect x="290.90" y="269.20" width="5.90" height="30.80" fill="#ffffff" stroke="#1e1818" stroke-width="1.0"/>
<line x1="303.7" y1="270.0" x2="303.7" y2="269.6" stroke="#1e1818" stroke-width="1.0"/>
<line x1="301.775" y1="269.6" x2="305.625" y2="269.6" stroke="#1e1818" stroke-width="1.0"/>
<rect x="300.70" y="270.50" width="6.00" height="29.50" fill="#ffffff" stroke="#1e1818" stroke-width="1.0"/>
<line x1="313.7" y1="220.7" x2="313.7" y2="215.6" stroke="#1e1818" stroke-width="1.0"/>
<line x1="311.775" y1="215.6" x2="315.625" y2="215.6" stroke="#1e1818" stroke-width="1.0"/>
<rect x="310.70" y="221.20" width="6.00" height="78.80" fill="#141010" stroke="#1e1818" stroke-width="1.0"/>
<line x1="323.6" y1="255.4" x2="323.6" y2="251.3" stroke="#1e1818" stroke-width="1.0"/>
<line x1="321.675" y1="251.3" x2="325.52500000000003" y2="251.3" stroke="#1e1818" stroke-width="1.0"/>
<rect x="320.60" y="255.90" width="6.00" height="44.10" fill="#9f9898" stroke="#1e1818" stroke-width="1.0"/>
<text x="314.0" y="214.824" font-size="8.9" text-anchor="middle" font-weight="normal" fill="#1c1c1c" letter-spacing="0.4" style="stroke-width:0.4px">***</text>
<text x="323.975" y="247.78" font-size="5.2" text-anchor="middle" font-weight="bold" fill="#1c1c1c" font-style="italic" letter-spacing="0.35" style="stroke-width:0.15px">###</text>
<text x="296.75" y="305.6" font-size="8.1" text-anchor="end" font-weight="normal" fill="#1c1c1c" transform="rotate(-90 296.75 305.6)">Con</text>
<text x="306.59999999999997" y="305.6" font-size="8.1" text-anchor="end" font-weight="normal" fill="#1c1c1c" transform="rotate(-90 306.59999999999997 305.6)">MG</text>
<text x="316.59999999999997" y="305.6" font-size="8.1" text-anchor="end" font-weight="normal" fill="#1c1c1c" transform="rotate(-90 316.59999999999997 305.6)">CDDP</text>
<text x="326.5" y="305.6" font-size="8.1" text-anchor="end" font-weight="normal" fill="#1c1c1c" transform="rotate(-90 326.5 305.6)">CDDP+MG</text>
<line x1="339.8" y1="269.0" x2="339.8" y2="268.6" stroke="#1e1818" stroke-width="1.0"/>
<line x1="337.875" y1="268.6" x2="341.725" y2="268.6" stroke="#1e1818" stroke-width="1.0"/>
<rect x="336.80" y="269.50" width="6.00" height="30.50" fill="#ffffff" stroke="#1e1818" stroke-width="1.0"/>
<line x1="349.75" y1="268.0" x2="349.75" y2="267.5" stroke="#1e1818" stroke-width="1.0"/>
<line x1="347.7975" y1="267.5" x2="351.7025" y2="267.5" stroke="#1e1818" stroke-width="1.0"/>
<rect x="346.70" y="268.50" width="6.10" height="31.50" fill="#ffffff" stroke="#1e1818" stroke-width="1.0"/>
<line x1="359.75" y1="205.0" x2="359.75" y2="197.3" stroke="#1e1818" stroke-width="1.0"/>
<line x1="357.8525" y1="197.3" x2="361.6475" y2="197.3" stroke="#1e1818" stroke-width="1.0"/>
<rect x="356.80" y="205.50" width="5.90" height="94.50" fill="#141010" stroke="#1e1818" stroke-width="1.0"/>
<line x1="369.8" y1="262.0" x2="369.8" y2="260.0" stroke="#1e1818" stroke-width="1.0"/>
<line x1="367.875" y1="260.0" x2="371.725" y2="260.0" stroke="#1e1818" stroke-width="1.0"/>
<rect x="366.80" y="262.50" width="6.00" height="37.50" fill="#9f9898" stroke="#1e1818" stroke-width="1.0"/>
<text x="360.0" y="195.02400000000003" font-size="8.9" text-anchor="middle" font-weight="normal" fill="#1c1c1c" letter-spacing="0.4" style="stroke-width:0.4px">***</text>
<text x="370.175" y="256.58" font-size="5.2" text-anchor="middle" font-weight="bold" fill="#1c1c1c" font-style="italic" letter-spacing="0.35" style="stroke-width:0.15px">###</text>
<text x="342.7" y="305.6" font-size="8.1" text-anchor="end" font-weight="normal" fill="#1c1c1c" transform="rotate(-90 342.7 305.6)">Con</text>
<text x="352.65" y="305.6" font-size="8.1" text-anchor="end" font-weight="normal" fill="#1c1c1c" transform="rotate(-90 352.65 305.6)">MG</text>
<text x="362.65" y="305.6" font-size="8.1" text-anchor="end" font-weight="normal" fill="#1c1c1c" transform="rotate(-90 362.65 305.6)">CDDP</text>
<text x="372.7" y="305.6" font-size="8.1" text-anchor="end" font-weight="normal" fill="#1c1c1c" transform="rotate(-90 372.7 305.6)">CDDP+MG</text>
<line x1="385.95" y1="268.7" x2="385.95" y2="267.6" stroke="#1e1818" stroke-width="1.0"/>
<line x1="383.9975" y1="267.6" x2="387.9025" y2="267.6" stroke="#1e1818" stroke-width="1.0"/>
<rect x="382.90" y="269.20" width="6.10" height="30.80" fill="#ffffff" stroke="#1e1818" stroke-width="1.0"/>
<line x1="395.85" y1="269.2" x2="395.85" y2="268.0" stroke="#1e1818" stroke-width="1.0"/>
<line x1="393.89750000000004" y1="268.0" x2="397.8025" y2="268.0" stroke="#1e1818" stroke-width="1.0"/>
<rect x="392.80" y="269.70" width="6.10" height="30.30" fill="#ffffff" stroke="#1e1818" stroke-width="1.0"/>
<line x1="405.8" y1="236.0" x2="405.8" y2="232.5" stroke="#1e1818" stroke-width="1.0"/>
<line x1="403.875" y1="232.5" x2="407.725" y2="232.5" stroke="#1e1818" stroke-width="1.0"/>
<rect x="402.80" y="236.50" width="6.00" height="63.50" fill="#141010" stroke="#1e1818" stroke-width="1.0"/>
<line x1="415.75" y1="264.6" x2="415.75" y2="264.2" stroke="#1e1818" stroke-width="1.0"/>
<line x1="413.7975" y1="264.2" x2="417.7025" y2="264.2" stroke="#1e1818" stroke-width="1.0"/>
<rect x="412.70" y="265.10" width="6.10" height="34.90" fill="#9f9898" stroke="#1e1818" stroke-width="1.0"/>
<text x="406.09999999999997" y="231.62400000000002" font-size="8.9" text-anchor="middle" font-weight="normal" fill="#1c1c1c" letter-spacing="0.4" style="stroke-width:0.4px">***</text>
<text x="416.175" y="259.38" font-size="5.2" text-anchor="middle" font-weight="bold" fill="#1c1c1c" font-style="italic" letter-spacing="0.35" style="stroke-width:0.15px">###</text>
<text x="388.84999999999997" y="305.6" font-size="8.1" text-anchor="end" font-weight="normal" fill="#1c1c1c" transform="rotate(-90 388.84999999999997 305.6)">Con</text>
<text x="398.75" y="305.6" font-size="8.1" text-anchor="end" font-weight="normal" fill="#1c1c1c" transform="rotate(-90 398.75 305.6)">MG</text>
<text x="408.7" y="305.6" font-size="8.1" text-anchor="end" font-weight="normal" fill="#1c1c1c" transform="rotate(-90 408.7 305.6)">CDDP</text>
<text x="418.65" y="305.6" font-size="8.1" text-anchor="end" font-weight="normal" fill="#1c1c1c" transform="rotate(-90 418.65 305.6)">CDDP+MG</text>
<line x1="432.15" y1="268.7" x2="432.15" y2="268.2" stroke="#1e1818" stroke-width="1.0"/>
<line x1="430.1975" y1="268.2" x2="434.10249999999996" y2="268.2" stroke="#1e1818" stroke-width="1.0"/>
<rect x="429.10" y="269.20" width="6.10" height="30.80" fill="#ffffff" stroke="#1e1818" stroke-width="1.0"/>
<line x1="442.1" y1="269.0" x2="442.1" y2="266.6" stroke="#1e1818" stroke-width="1.0"/>
<line x1="440.175" y1="266.6" x2="444.02500000000003" y2="266.6" stroke="#1e1818" stroke-width="1.0"/>
<rect x="439.10" y="269.50" width="6.00" height="30.50" fill="#ffffff" stroke="#1e1818" stroke-width="1.0"/>
<line x1="452.1" y1="199.6" x2="452.1" y2="192.5" stroke="#1e1818" stroke-width="1.0"/>
<line x1="450.12" y1="192.5" x2="454.08000000000004" y2="192.5" stroke="#1e1818" stroke-width="1.0"/>
<rect x="449.00" y="200.10" width="6.20" height="99.90" fill="#141010" stroke="#1e1818" stroke-width="1.0"/>
<line x1="462.2" y1="270.0" x2="462.2" y2="269.5" stroke="#1e1818" stroke-width="1.0"/>
<line x1="460.165" y1="269.5" x2="464.23499999999996" y2="269.5" stroke="#1e1818" stroke-width="1.0"/>
<rect x="459.00" y="270.50" width="6.40" height="29.50" fill="#9f9898" stroke="#1e1818" stroke-width="1.0"/>
<text x="452.2" y="191.02400000000003" font-size="8.9" text-anchor="middle" font-weight="normal" fill="#1c1c1c" letter-spacing="0.4" style="stroke-width:0.4px">***</text>
<text x="462.37500000000006" y="264.78" font-size="5.2" text-anchor="middle" font-weight="bold" fill="#1c1c1c" font-style="italic" letter-spacing="0.35" style="stroke-width:0.15px">###</text>
<text x="435.04999999999995" y="305.6" font-size="8.1" text-anchor="end" font-weight="normal" fill="#1c1c1c" transform="rotate(-90 435.04999999999995 305.6)">Con</text>
<text x="445.0" y="305.6" font-size="8.1" text-anchor="end" font-weight="normal" fill="#1c1c1c" transform="rotate(-90 445.0 305.6)">MG</text>
<text x="455.0" y="305.6" font-size="8.1" text-anchor="end" font-weight="normal" fill="#1c1c1c" transform="rotate(-90 455.0 305.6)">CDDP</text>
<text x="465.09999999999997" y="305.6" font-size="8.1" text-anchor="end" font-weight="normal" fill="#1c1c1c" transform="rotate(-90 465.09999999999997 305.6)">CDDP+MG</text>
<line x1="285.6" y1="175.5" x2="285.6" y2="300.5" stroke="#1e1818" stroke-width="1.0"/>
<line x1="285.1" y1="300.0" x2="471.8" y2="300.0" stroke="#1e1818" stroke-width="1.0"/>
<line x1="283.0" y1="176.0" x2="285.6" y2="176.0" stroke="#1e1818" stroke-width="1.0"/>
<text x="280.70000000000005" y="178.5" font-size="7.0" text-anchor="end" font-weight="bold" fill="#1c1c1c">4</text>
<line x1="283.0" y1="207.0" x2="285.6" y2="207.0" stroke="#1e1818" stroke-width="1.0"/>
<text x="280.70000000000005" y="209.5" font-size="7.0" text-anchor="end" font-weight="bold" fill="#1c1c1c">3</text>
<line x1="283.0" y1="238.0" x2="285.6" y2="238.0" stroke="#1e1818" stroke-width="1.0"/>
<text x="280.70000000000005" y="240.5" font-size="7.0" text-anchor="end" font-weight="bold" fill="#1c1c1c">2</text>
<line x1="283.0" y1="269.0" x2="285.6" y2="269.0" stroke="#1e1818" stroke-width="1.0"/>
<text x="280.70000000000005" y="271.5" font-size="7.0" text-anchor="end" font-weight="bold" fill="#1c1c1c">1</text>
<line x1="283.0" y1="300.0" x2="285.6" y2="300.0" stroke="#1e1818" stroke-width="1.0"/>
<text x="280.70000000000005" y="302.5" font-size="7.0" text-anchor="end" font-weight="bold" fill="#1c1c1c">0</text>
<text x="306.7" y="164.8" font-size="8.4" text-anchor="middle" font-weight="normal" fill="#1c1c1c">GRP78</text>
<text x="354.1" y="164.8" font-size="8.4" text-anchor="middle" font-weight="normal" fill="#1c1c1c">p-PERK</text>
<text x="400.6" y="164.8" font-size="8.4" text-anchor="middle" font-weight="normal" fill="#1c1c1c">p-eIF2α</text>
<text x="444.5" y="164.8" font-size="8.4" text-anchor="middle" font-weight="normal" fill="#1c1c1c">CHOP</text>
<text x="259.8" y="239.8" font-size="8.75" text-anchor="middle" font-weight="normal" fill="#1c1c1c" transform="rotate(-90 259.8 239.8)">Reletive protein level</text>
<text x="269.9" y="239.8" font-size="8.8" text-anchor="middle" font-weight="normal" fill="#1c1c1c" transform="rotate(-90 269.9 239.8)">(fold change)</text>
<text x="233.6" y="371.0" font-size="12.2" text-anchor="start" font-weight="normal" fill="#1c1c1c">G</text>
<line x1="302.6" y1="475.5" x2="302.6" y2="475.3" stroke="#1e1818" stroke-width="1.0"/>
<line x1="300.73" y1="475.3" x2="304.47" y2="475.3" stroke="#1e1818" stroke-width="1.0"/>
<rect x="299.70" y="476.00" width="5.80" height="13.50" fill="#ffffff" stroke="#1e1818" stroke-width="1.0"/>
<line x1="312.45" y1="475.6" x2="312.45" y2="475.4" stroke="#1e1818" stroke-width="1.0"/>
<line x1="310.5525" y1="475.4" x2="314.34749999999997" y2="475.4" stroke="#1e1818" stroke-width="1.0"/>
<rect x="309.50" y="476.10" width="5.90" height="13.40" fill="#ffffff" stroke="#1e1818" stroke-width="1.0"/>
<line x1="322.55" y1="451.9" x2="322.55" y2="449.3" stroke="#1e1818" stroke-width="1.0"/>
<line x1="320.65250000000003" y1="449.3" x2="324.4475" y2="449.3" stroke="#1e1818" stroke-width="1.0"/>
<rect x="319.60" y="452.40" width="5.90" height="37.10" fill="#141010" stroke="#1e1818" stroke-width="1.0"/>
<line x1="332.3" y1="477.0" x2="332.3" y2="476.8" stroke="#1e1818" stroke-width="1.0"/>
<line x1="330.375" y1="476.8" x2="334.225" y2="476.8" stroke="#1e1818" stroke-width="1.0"/>
<rect x="329.30" y="477.50" width="6.00" height="12.00" fill="#9f9898" stroke="#1e1818" stroke-width="1.0"/>
<text x="323.20000000000005" y="448.192" font-size="9.8" text-anchor="middle" font-weight="normal" fill="#1c1c1c" letter-spacing="1.2" style="stroke-width:0.4px">***</text>
<text x="332.475" y="471.02" font-size="6.0" text-anchor="middle" font-weight="bold" fill="#1c1c1c" font-style="italic" letter-spacing="0.55" style="stroke-width:0.15px">###</text>
<text x="305.1" y="494.0" font-size="8.65" text-anchor="end" font-weight="normal" fill="#1c1c1c" transform="rotate(-90 305.1 494.0)">Con</text>
<text x="314.95" y="494.0" font-size="8.65" text-anchor="end" font-weight="normal" fill="#1c1c1c" transform="rotate(-90 314.95 494.0)">MG</text>
<text x="325.05" y="494.0" font-size="8.65" text-anchor="end" font-weight="normal" fill="#1c1c1c" transform="rotate(-90 325.05 494.0)">CDDP</text>
<text x="334.8" y="494.0" font-size="8.65" text-anchor="end" font-weight="normal" fill="#1c1c1c" transform="rotate(-90 334.8 494.0)">CDDP+MG</text>
<line x1="348.45" y1="475.3" x2="348.45" y2="475.0" stroke="#1e1818" stroke-width="1.0"/>
<line x1="346.5525" y1="475.0" x2="350.34749999999997" y2="475.0" stroke="#1e1818" stroke-width="1.0"/>
<rect x="345.50" y="475.80" width="5.90" height="13.70" fill="#ffffff" stroke="#1e1818" stroke-width="1.0"/>
<line x1="358.1" y1="475.5" x2="358.1" y2="475.2" stroke="#1e1818" stroke-width="1.0"/>
<line x1="356.23" y1="475.2" x2="359.97" y2="475.2" stroke="#1e1818" stroke-width="1.0"/>
<rect x="355.20" y="476.00" width="5.80" height="13.50" fill="#ffffff" stroke="#1e1818" stroke-width="1.0"/>
<line x1="368.05" y1="412.0" x2="368.05" y2="409.2" stroke="#1e1818" stroke-width="1.0"/>
<line x1="366.15250000000003" y1="409.2" x2="369.9475" y2="409.2" stroke="#1e1818" stroke-width="1.0"/>
<rect x="365.10" y="412.50" width="5.90" height="77.00" fill="#141010" stroke="#1e1818" stroke-width="1.0"/>
<line x1="377.9" y1="467.8" x2="377.9" y2="467.4" stroke="#1e1818" stroke-width="1.0"/>
<line x1="375.97499999999997" y1="467.4" x2="379.825" y2="467.4" stroke="#1e1818" stroke-width="1.0"/>
<rect x="374.90" y="468.30" width="6.00" height="21.20" fill="#9f9898" stroke="#1e1818" stroke-width="1.0"/>
<text x="368.8" y="407.79200000000003" font-size="9.8" text-anchor="middle" font-weight="normal" fill="#1c1c1c" letter-spacing="1.2" style="stroke-width:0.4px">***</text>
<text x="378.075" y="462.62" font-size="6.0" text-anchor="middle" font-weight="bold" fill="#1c1c1c" font-style="italic" letter-spacing="0.55" style="stroke-width:0.15px">###</text>
<text x="350.95" y="494.0" font-size="8.65" text-anchor="end" font-weight="normal" fill="#1c1c1c" transform="rotate(-90 350.95 494.0)">Con</text>
<text x="360.6" y="494.0" font-size="8.65" text-anchor="end" font-weight="normal" fill="#1c1c1c" transform="rotate(-90 360.6 494.0)">MG</text>
<text x="370.55" y="494.0" font-size="8.65" text-anchor="end" font-weight="normal" fill="#1c1c1c" transform="rotate(-90 370.55 494.0)">CDDP</text>
<text x="380.4" y="494.0" font-size="8.65" text-anchor="end" font-weight="normal" fill="#1c1c1c" transform="rotate(-90 380.4 494.0)">CDDP+MG</text>
<line x1="394.45" y1="475.6" x2="394.45" y2="475.4" stroke="#1e1818" stroke-width="1.0"/>
<line x1="392.5525" y1="475.4" x2="396.34749999999997" y2="475.4" stroke="#1e1818" stroke-width="1.0"/>
<rect x="391.50" y="476.10" width="5.90" height="13.40" fill="#ffffff" stroke="#1e1818" stroke-width="1.0"/>
<line x1="404.1" y1="475.7" x2="404.1" y2="475.5" stroke="#1e1818" stroke-width="1.0"/>
<line x1="402.23" y1="475.5" x2="405.97" y2="475.5" stroke="#1e1818" stroke-width="1.0"/>
<rect x="401.20" y="476.20" width="5.80" height="13.30" fill="#ffffff" stroke="#1e1818" stroke-width="1.0"/>
<line x1="414.0" y1="443.8" x2="414.0" y2="441.4" stroke="#1e1818" stroke-width="1.0"/>
<line x1="412.075" y1="441.4" x2="415.925" y2="441.4" stroke="#1e1818" stroke-width="1.0"/>
<rect x="411.00" y="444.30" width="6.00" height="45.20" fill="#141010" stroke="#1e1818" stroke-width="1.0"/>
<line x1="423.75" y1="475.7" x2="423.75" y2="475.5" stroke="#1e1818" stroke-width="1.0"/>
<line x1="421.8525" y1="475.5" x2="425.6475" y2="475.5" stroke="#1e1818" stroke-width="1.0"/>
<rect x="420.80" y="476.20" width="5.90" height="13.30" fill="#9f9898" stroke="#1e1818" stroke-width="1.0"/>
<text x="414.6" y="439.79200000000003" font-size="9.8" text-anchor="middle" font-weight="normal" fill="#1c1c1c" letter-spacing="1.2" style="stroke-width:0.4px">***</text>
<text x="423.875" y="471.02" font-size="6.0" text-anchor="middle" font-weight="bold" fill="#1c1c1c" font-style="italic" letter-spacing="0.55" style="stroke-width:0.15px">###</text>
<text x="396.95" y="494.0" font-size="8.65" text-anchor="end" font-weight="normal" fill="#1c1c1c" transform="rotate(-90 396.95 494.0)">Con</text>
<text x="406.6" y="494.0" font-size="8.65" text-anchor="end" font-weight="normal" fill="#1c1c1c" transform="rotate(-90 406.6 494.0)">MG</text>
<text x="416.5" y="494.0" font-size="8.65" text-anchor="end" font-weight="normal" fill="#1c1c1c" transform="rotate(-90 416.5 494.0)">CDDP</text>
<text x="426.25" y="494.0" font-size="8.65" text-anchor="end" font-weight="normal" fill="#1c1c1c" transform="rotate(-90 426.25 494.0)">CDDP+MG</text>
<line x1="294.3" y1="405.8" x2="294.3" y2="490.0" stroke="#1e1818" stroke-width="1.0"/>
<line x1="293.8" y1="489.5" x2="431.9" y2="489.5" stroke="#1e1818" stroke-width="1.0"/>
<line x1="290.5" y1="406.3" x2="294.3" y2="406.3" stroke="#1e1818" stroke-width="1.0"/>
<text x="286.40000000000003" y="408.8" font-size="7.2" text-anchor="end" font-weight="bold" fill="#1c1c1c">6</text>
<line x1="290.5" y1="434.0" x2="294.3" y2="434.0" stroke="#1e1818" stroke-width="1.0"/>
<text x="286.40000000000003" y="436.5" font-size="7.2" text-anchor="end" font-weight="bold" fill="#1c1c1c">4</text>
<line x1="290.5" y1="461.8" x2="294.3" y2="461.8" stroke="#1e1818" stroke-width="1.0"/>
<text x="286.40000000000003" y="464.3" font-size="7.2" text-anchor="end" font-weight="bold" fill="#1c1c1c">2</text>
<line x1="290.5" y1="489.5" x2="294.3" y2="489.5" stroke="#1e1818" stroke-width="1.0"/>
<text x="286.40000000000003" y="492.0" font-size="7.2" text-anchor="end" font-weight="bold" fill="#1c1c1c">0</text>
<text x="316.5" y="393.3" font-size="8.4" text-anchor="middle" font-weight="normal" fill="#1c1c1c">p-ERK</text>
<text x="363.9" y="393.3" font-size="8.4" text-anchor="middle" font-weight="normal" fill="#1c1c1c">p-JNK</text>
<text x="409.1" y="393.3" font-size="8.4" text-anchor="middle" font-weight="normal" fill="#1c1c1c">p-p38</text>
<text x="266.2" y="448.8" font-size="8.75" text-anchor="middle" font-weight="normal" fill="#1c1c1c" transform="rotate(-90 266.2 448.8)">Reletive protein level</text>
<text x="276.2" y="448.8" font-size="8.8" text-anchor="middle" font-weight="normal" fill="#1c1c1c" transform="rotate(-90 276.2 448.8)">(fold change)</text>
</svg>
</body></html>
